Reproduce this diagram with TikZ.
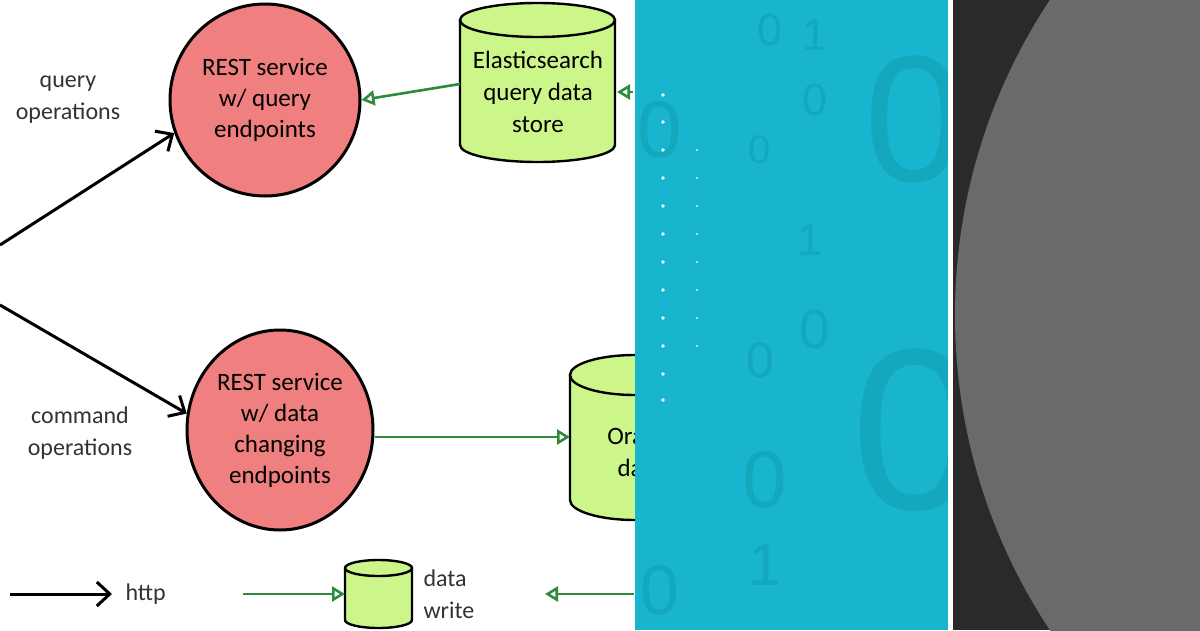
\documentclass[tikz,border=0pt]{standalone}
\usepackage{fontspec}
\setmainfont{Carlito}
\newfontfamily\digf{Liberation Sans}
\usetikzlibrary{arrows.meta,shapes.geometric}
\definecolor{pinkf}{HTML}{F08080}
\definecolor{greenf}{HTML}{CCF58A}
\definecolor{gline}{HTML}{2E8B3A}
\definecolor{cyanp}{HTML}{19B4CE}
\definecolor{darkp}{HTML}{2A2A2A}
\definecolor{grayc}{HTML}{6A6A6A}
\tikzset{
 svc/.style={ellipse,draw=black,line width=3pt,fill=pinkf,align=center,font=\fontsize{25}{31}\selectfont,inner sep=0pt},
 lbl/.style={align=center,font=\fontsize{24}{32}\selectfont,text=black!80},
 http/.style={-{Straight Barb[length=13pt,width=24pt]},line width=3pt,black},
 dw/.style={-{Triangle[open,length=13pt,width=15pt,fill=white]},line width=2.6pt,gline},
 cyl/.style={draw=black,line width=2.4pt,fill=greenf},
 dig/.style={text=teal!70!cyanp,opacity=0.3}
}
\begin{document}
\begin{tikzpicture}[x=1pt,y=-1pt]
\useasboundingbox (0,0) rectangle (1200,630);
\fill[white] (0,0) rectangle (635,630);
\newcommand{\mycyl}[5]{% xl, xr, top, bottom, ry
 \path[cyl] (#1,#3) -- (#1,#4) arc[start angle=180,end angle=0,x radius={(#2-#1)/2},y radius=#5] -- (#2,#3);
 \path[cyl] ({(#1+#2)/2},#3) ellipse[x radius={(#2-#1)/2},y radius=#5];}
\mycyl{460}{615}{20}{145}{17}
\node[lbl,font=\fontsize{25}{32}\selectfont,text=black] (es) at (538,92) {Elasticsearch\\query data\\store};
\coordinate (esl) at (460,84);
\coordinate (esr) at (633,92);
\coordinate (esr2) at (617,92);
\begin{scope}
\clip (0,0) rectangle (635,630);
\mycyl{570}{700}{375}{500}{20}
\node[lbl,font=\fontsize{25}{32}\selectfont,text=black] (ora) at (640,452) {Oracle\\data};
\end{scope}
\coordinate (oral) at (570,437);
\node[svc,minimum width=190pt,minimum height=192pt] (q) at (265,100) {REST service\\w/ query\\endpoints};
\node[svc,minimum width=186pt,minimum height=200pt] (c) at (280,430) {REST service\\w/ data\\changing\\endpoints};
\coordinate (src1) at (0,245);
\coordinate (src2) at (0,305);
\draw[http] (src1) -- (q.200);
\draw[http] (src2) -- (c.170);
\node[lbl] (ql) at (68,100) {query\\operations};
\node[lbl] (cl) at (80,433) {command\\operations};
\draw[dw] (esl) -- (q.east|-0,100) ;
\draw[dw] (esr) -- (esr2);
\draw[dw] (c.east|-0,437) -- (oral);
\coordinate (h1) at (10,594); \coordinate (h2) at (112,594);
\draw[http] (h1) -- (h2);
\node[lbl,anchor=west] (ht) at (122,594) {http};
\mycyl{345}{412}{568}{620}{8}
\coordinate (g1) at (243,594); \coordinate (g2) at (345,594);
\draw[dw] (g1) -- (g2);
\node[lbl,anchor=west,align=left] (dwl) at (420,594) {data\\write};
\coordinate (r1) at (634,594); \coordinate (r2) at (545,594);
\draw[dw] (r1) -- (r2);
\fill[cyanp] (635,0) rectangle (948,630);
\begin{scope}
\clip (635,0) rectangle (948,630);
\foreach \x/\y/\s/\d in {770/30/45/0,815/35/45/1,660/130/80/0,815/100/45/0,760/150/40/0,915/120/180/0,810/240/45/1,760/360/50/0,815/330/55/0,915/430/230/0,765/480/80/0,765/565/60/1,660/590/70/0} {
 \node[dig,font=\fontsize{\s}{\s}\digf] at (\x,\y) {\d};}
\foreach \y in {95,122,150,178,206,234,262,290,318,346,374,400} \fill[white] (663,\y) circle (1.8);
\foreach \y in {150,178,206,234,262,290,318,346} \fill[white!80!cyanp] (697,\y) circle (1.2);
\end{scope}
\fill[white] (948,0) rectangle (953,630);
\fill[darkp] (953,0) rectangle (1200,630);
\begin{scope}
\clip (953,0) rectangle (1200,630);
\fill[grayc] (1525,315) circle (570);
\end{scope}
\end{tikzpicture}
\end{document}
